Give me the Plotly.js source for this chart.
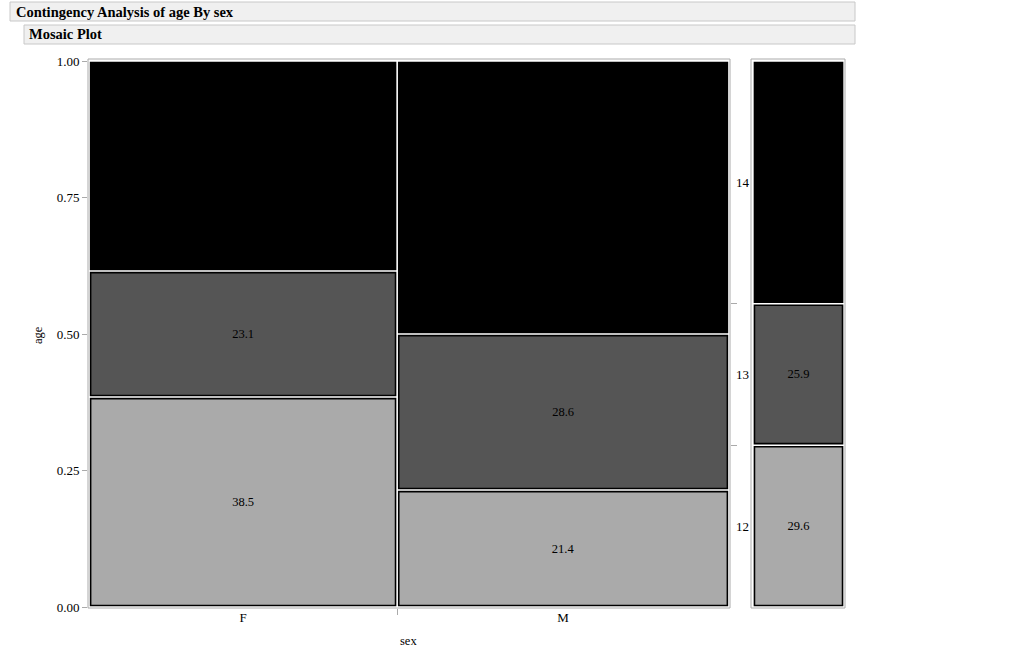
<!DOCTYPE html>
<html>
<head>
<meta charset="utf-8">
<script src="https://cdn.plot.ly/plotly-3.0.1.min.js"></script>
<style>html,body{margin:0;padding:0;background:#fff;}#chart{width:1014px;height:665px;}</style>
</head>
<body>
<div id="chart"></div>
<script>
// ---- data ----
const sexLevels = ['F', 'M'];
const ageLevels = ['12', '13', '14'];
const count12 = [5, 3];   // F, M
const count13 = [3, 4];
const count14 = [5, 7];
const ageColors = ['#aaaaaa', '#555555', '#000000'];
const showPct = [true, true, false];

// ---- derived ----
const countsByAge = [count12, count13, count14];
const sexTotals = sexLevels.map((s, i) => countsByAge.reduce((a, c) => a + c[i], 0));
const grand = sexTotals.reduce((a, b) => a + b, 0);
const sexFrac = sexTotals.map(t => t / grand);
const sexStart = sexFrac.map((f, i) => sexFrac.slice(0, i).reduce((a, b) => a + b, 0));
const sexCenter = sexFrac.map((f, i) => sexStart[i] + f / 2);
const ageTotals = countsByAge.map(c => c.reduce((a, b) => a + b, 0));
const ageFrac = ageTotals.map(t => t / grand);
const ageStart = ageFrac.map((f, i) => ageFrac.slice(0, i).reduce((a, b) => a + b, 0));
const ageCenter = ageFrac.map((f, i) => ageStart[i] + f / 2);

const gx = 0.0025, gy = 0.0029, gx2 = 0.016;
const font = 'Liberation Serif, Times New Roman, serif';
const lineW = 1.6;

const traces = [];
countsByAge.forEach((cnt, a) => {
  const fr = cnt.map((c, i) => c / sexTotals[i]);
  const st = cnt.map((c, i) => countsByAge.slice(0, a).reduce((s, cc) => s + cc[i], 0) / sexTotals[i]);
  traces.push({
    type: 'bar', x: sexCenter, width: sexFrac.map(f => f - 2 * gx),
    base: st.map(v => v + gy), y: fr.map(v => v - 2 * gy),
    marker: {color: ageColors[a], line: {color: '#000', width: lineW}},
    text: fr.map(v => showPct[a] ? (v * 100).toFixed(1) : ''),
    textposition: 'inside', insidetextanchor: 'middle', constraintext: 'none',
    insidetextfont: {color: '#000', size: 12.5, family: font},
    hoverinfo: 'skip', showlegend: false, xaxis: 'x', yaxis: 'y'
  });
  traces.push({
    type: 'bar', x: [0.5], width: [1 - 2 * gx2],
    base: [ageStart[a] + gy], y: [ageFrac[a] - 2 * gy],
    marker: {color: ageColors[a], line: {color: '#000', width: lineW}},
    text: [showPct[a] ? (ageFrac[a] * 100).toFixed(1) : ''],
    textposition: 'inside', insidetextanchor: 'middle', constraintext: 'none',
    insidetextfont: {color: '#000', size: 12.5, family: font},
    hoverinfo: 'skip', showlegend: false, xaxis: 'x2', yaxis: 'y'
  });
});
// invisible carrier so the right-hand age axis is drawn
traces.push({type: 'scatter', x: sexCenter, y: [0.5, 0.5], mode: 'markers',
  marker: {opacity: 0}, hoverinfo: 'skip', showlegend: false, xaxis: 'x', yaxis: 'y2'});

// layout helpers (pixel -> paper)
const L = 88, R = 845, T = 59, B = 608;
const px = v => (v - L) / (R - L);
const py = v => (B - v) / (B - T);

const layout = {
  width: 1014, height: 665,
  margin: {l: L, r: 1014 - R, t: T, b: 665 - B},
  paper_bgcolor: '#fff', plot_bgcolor: 'rgba(0,0,0,0)',
  barmode: 'overlay', bargap: 0,
  font: {family: font, size: 12.5, color: '#000'},
  xaxis: {
    domain: [0, px(730)], range: [-0.0016, 1.0016], fixedrange: true,
    tickvals: sexCenter, ticktext: sexLevels, ticks: '', showgrid: false, zeroline: false,
    showline: false, tickfont: {size: 13, family: font},
    minor: {tickvals: sexStart.slice(1), ticks: 'outside', ticklen: 6, tickcolor: '#aaaaaa', showgrid: false}
  },
  xaxis2: {
    domain: [px(751), 1], range: [-0.022, 1.011], anchor: 'y',
    showticklabels: false, ticks: '', showgrid: false, zeroline: false, showline: false
  },
  yaxis: {
    range: [-0.0018, 1.0037], tickvals: [0, 0.25, 0.5, 0.75, 1],
    ticktext: ['0.00', '0.25', '0.50', '0.75', '1.00'],
    ticks: 'outside', ticklen: 5, tickcolor: '#aaaaaa', showgrid: false, zeroline: false,
    showline: false, tickfont: {size: 13, family: font}, anchor: 'x'
  },
  yaxis2: {
    overlaying: 'y', side: 'right', anchor: 'x', range: [-0.0018, 1.0037],
    tickmode: 'array', tickvals: ageCenter, ticktext: ageLevels, ticks: '', ticklabelstandoff: 5,
    showgrid: false, zeroline: false, showline: false, tickfont: {size: 13, family: font},
    minor: {tickvals: ageStart.slice(1), ticks: 'outside', ticklen: 6, tickcolor: '#aaaaaa', showgrid: false}
  },
  shapes: [
    {type: 'rect', xref: 'paper', yref: 'paper', x0: px(10), x1: px(855), y0: py(2), y1: py(21),
     fillcolor: '#f0f0f0', line: {color: '#c8c8c8', width: 1}, layer: 'below'},
    {type: 'rect', xref: 'paper', yref: 'paper', x0: px(24), x1: px(855), y0: py(25), y1: py(44),
     fillcolor: '#f0f0f0', line: {color: '#c8c8c8', width: 1}, layer: 'below'},
    {type: 'rect', xref: 'x domain', yref: 'y domain', x0: 0, x1: 1, y0: 0, y1: 1,
     line: {color: '#aaaaaa', width: 1}, layer: 'above'},
    {type: 'rect', xref: 'x2 domain', yref: 'y domain', x0: 0, x1: 1, y0: 0, y1: 1,
     line: {color: '#aaaaaa', width: 1}, layer: 'above'}
  ],
  annotations: [
    {xref: 'paper', yref: 'paper', x: px(14), y: py(11.5), xanchor: 'left', yanchor: 'middle',
     text: '<b>Contingency Analysis of age By sex</b>', showarrow: false, font: {size: 14.5, family: font, color: '#000'}},
    {xref: 'paper', yref: 'paper', x: px(27), y: py(34.5), xanchor: 'left', yanchor: 'middle',
     text: '<b>Mosaic Plot</b>', showarrow: false, font: {size: 14.5, family: font, color: '#000'}},
    {xref: 'paper', yref: 'paper', x: px(38), y: py(335), xanchor: 'center', yanchor: 'middle',
     text: 'age', textangle: -90, showarrow: false, font: {size: 12.5, family: font, color: '#000'}},
    {xref: 'paper', yref: 'paper', x: px(408), y: py(641), xanchor: 'center', yanchor: 'middle',
     text: 'sex', showarrow: false, font: {size: 12.5, family: font, color: '#000'}}
  ]
};

Plotly.newPlot('chart', traces, layout, {displayModeBar: false, staticPlot: true});
</script>
</body>
</html>
